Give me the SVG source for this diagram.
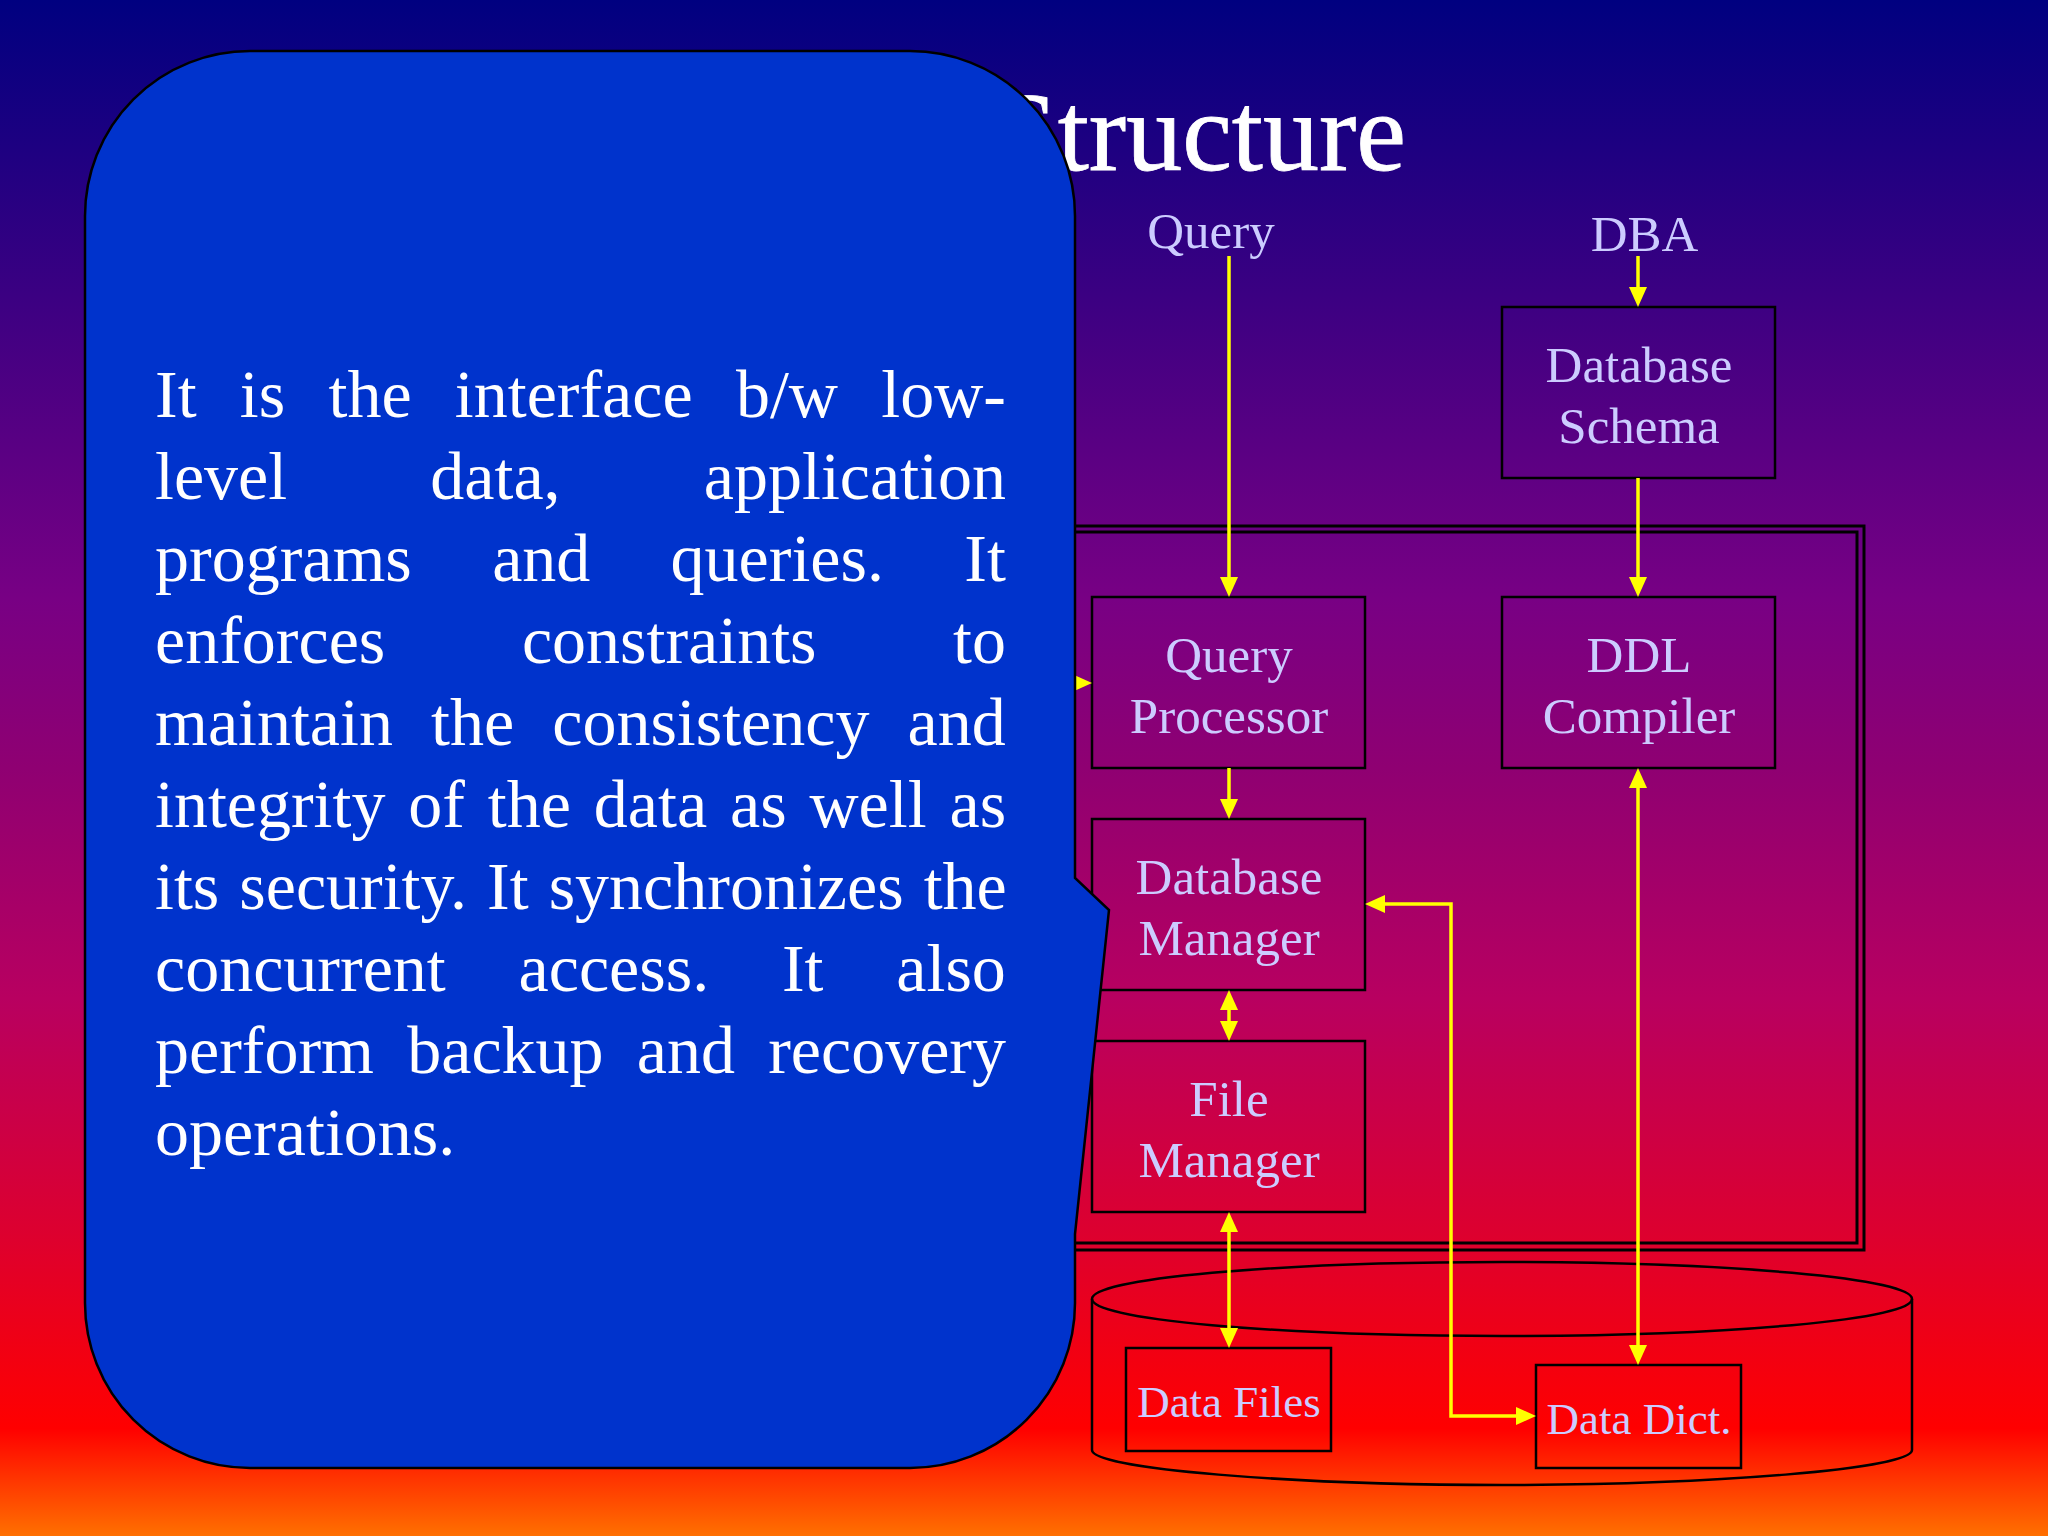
<svg xmlns="http://www.w3.org/2000/svg" width="2048" height="1536" viewBox="0 0 2048 1536">
<style>
text{font-family:"Liberation Serif","Times New Roman",serif}
.lb{font-size:51px;fill:#ccccff;text-anchor:middle}
.sm{font-size:45px;fill:#ccccff;text-anchor:middle}
.box{fill:none;stroke:#000;stroke-width:2.5}
.fr{fill:none;stroke:#000;stroke-width:3}
.c{fill:none;stroke:#ffff00;stroke-width:3.5;marker-end:url(#ah)}
.b{marker-start:url(#ah)}
.t{font-size:68px;fill:#fff}
</style>
<defs>
<linearGradient id="bg" x1="0" y1="0" x2="0" y2="1">
<stop offset="0" stop-color="#000080"/>
<stop offset="0.39" stop-color="#780084"/>
<stop offset="0.5" stop-color="#8f0072"/>
<stop offset="0.65" stop-color="#b80060"/>
<stop offset="0.8" stop-color="#dc0030"/>
<stop offset="0.93" stop-color="#ff0000"/>
<stop offset="1" stop-color="#ff7000"/>
</linearGradient>
<marker id="ah" markerUnits="userSpaceOnUse" markerWidth="22" markerHeight="20" refX="12" refY="9" orient="auto-start-reverse"><path d="M0 0L20 9L0 18Z" fill="#ffff00"/></marker>
</defs>
<rect id="background" width="2048" height="1536" fill="url(#bg)"/>
<text id="title" x="1406" y="170" font-size="112" fill="#fff" stroke="#fff" stroke-width="0.8" text-anchor="end">Structure</text>
<g id="engine-frame"><rect class="fr" x="300" y="526" width="1564" height="724"/><rect class="fr" x="308" y="532" width="1549" height="711"/></g>
<g id="disk" fill="none" stroke="#000" stroke-width="2.5"><path d="M1092 1299V1450C1092 1469 1293 1485 1502 1485S1912 1469 1912 1450V1299"/><ellipse cx="1502" cy="1299" rx="410" ry="37"/></g>
<g id="query-label"><text class="lb" x="1211" y="248">Query</text></g>
<g id="dba-label"><text class="lb" x="1644.5" y="251">DBA</text></g>
<g id="database-schema"><rect class="box" x="1502" y="307" width="273" height="171"/><text class="lb" x="1639" y="381.5">Database</text><text class="lb" x="1639" y="443">Schema</text></g>
<g id="query-processor"><rect class="box" x="1092" y="597" width="273" height="171"/><text class="lb" x="1229" y="671.5">Query</text><text class="lb" x="1229" y="733">Processor</text></g>
<g id="ddl-compiler"><rect class="box" x="1502" y="597" width="273" height="171"/><text class="lb" x="1639" y="671.5">DDL</text><text class="lb" x="1639" y="733">Compiler</text></g>
<g id="database-manager"><rect class="box" x="1092" y="819" width="273" height="171"/><text class="lb" x="1229" y="893.5">Database</text><text class="lb" x="1229" y="955">Manager</text></g>
<g id="file-manager"><rect class="box" x="1092" y="1041" width="273" height="171"/><text class="lb" x="1229" y="1115.5">File</text><text class="lb" x="1229" y="1177">Manager</text></g>
<g id="data-files"><rect class="box" x="1126" y="1348" width="205" height="103"/><text class="sm" x="1229" y="1417">Data Files</text></g>
<g id="data-dict"><rect class="box" x="1536" y="1365" width="205" height="103"/><text class="sm" x="1639" y="1434">Data Dict.</text></g>
<g id="connectors">
<path class="c" d="M1229 256V589"/>
<path class="c" d="M1638 256V299"/>
<path class="c" d="M1638 478V589"/>
<path class="c" d="M1229 768V811"/>
<path class="c b" d="M1229 998V1033"/>
<path class="c b" d="M1229 1220V1340"/>
<path class="c b" d="M1638 776V1357"/>
<path class="c b" d="M1373 904H1451V1416H1528"/>
<path class="c" d="M1000 683H1084"/>
</g>
<g id="callout">
<path d="M250 51H910A165 165 0 0 1 1075 216V878L1109 910L1075 1234V1303A165 165 0 0 1 910 1468H250A165 165 0 0 1 85 1303V216A165 165 0 0 1 250 51Z" fill="#0033cc" stroke="#000" stroke-width="2.5"/>
<text class="t" x="155" y="416.5" word-spacing="26.3">It is the interface b/w low-</text>
<text class="t" x="155" y="498.5" word-spacing="126.2">level data, application</text>
<text class="t" x="155" y="580.5" word-spacing="63.3">programs and queries. It</text>
<text class="t" x="155" y="662.5" word-spacing="119.6">enforces constraints to</text>
<text class="t" x="155" y="744.5" word-spacing="21.1">maintain the consistency and</text>
<text class="t" x="155" y="826.5" word-spacing="5.9">integrity of the data as well as</text>
<text class="t" x="155" y="908.5" word-spacing="3">its security. It synchronizes the</text>
<text class="t" x="155" y="990.5" word-spacing="55.8">concurrent access. It also</text>
<text class="t" x="155" y="1072.5" word-spacing="16.2">perform backup and recovery</text>
<text class="t" x="155" y="1154.5">operations.</text>
</g>
</svg>
